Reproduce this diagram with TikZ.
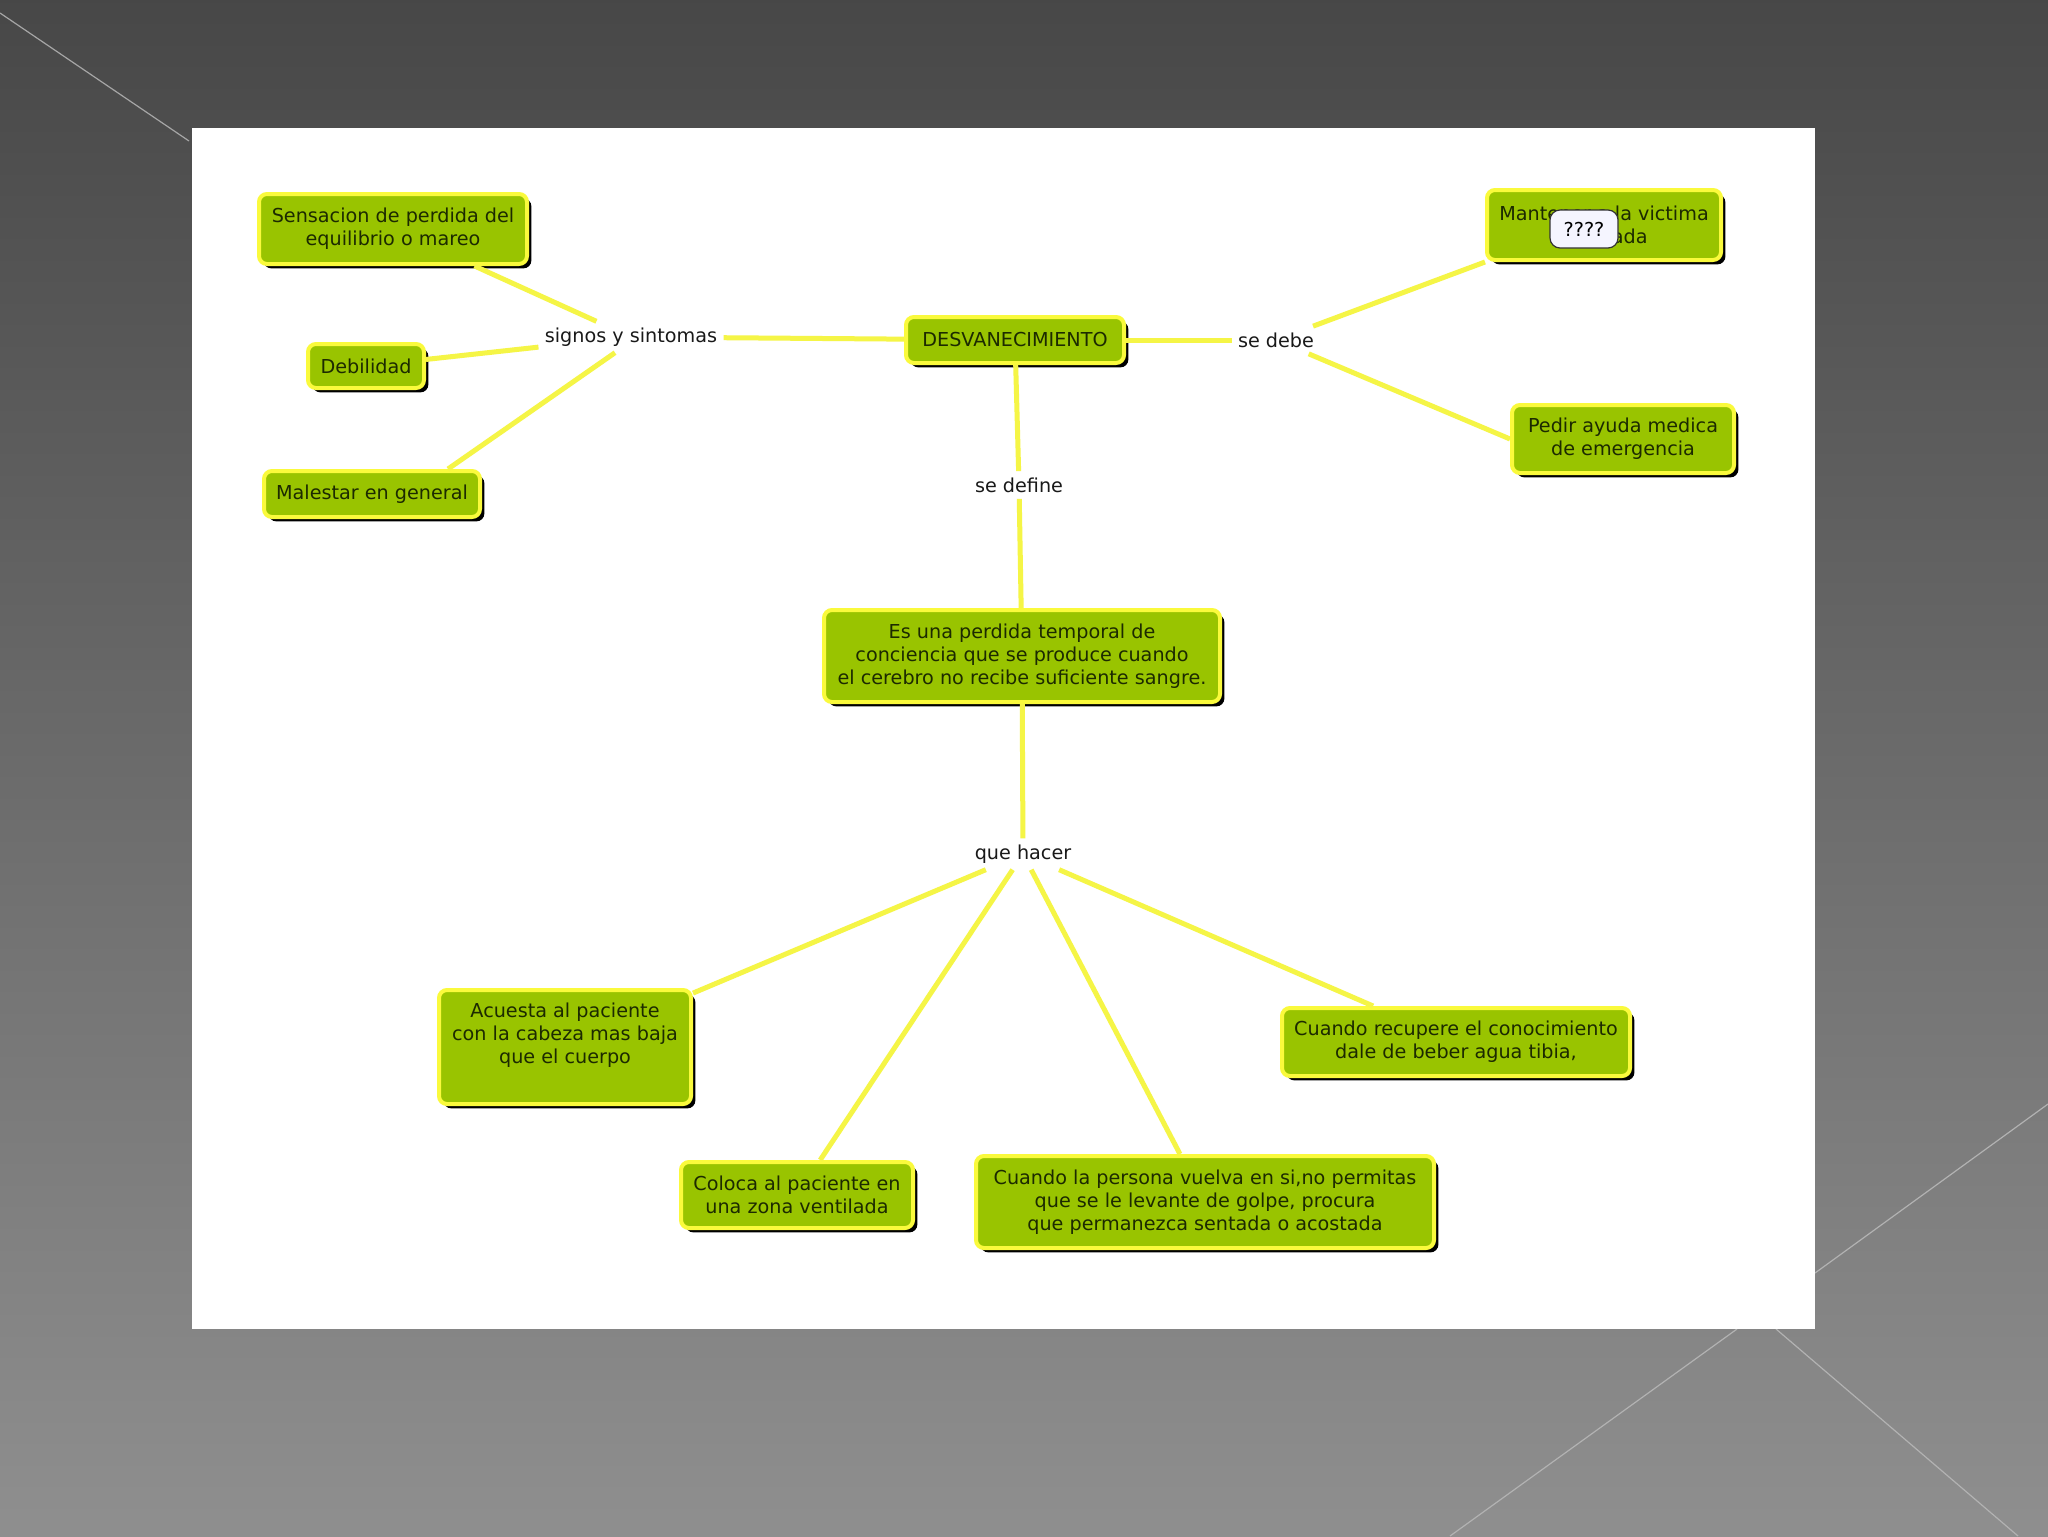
\documentclass[tikz,border=0pt]{standalone}
\usepackage{fontspec}
\setmainfont{DejaVu Sans}
\usetikzlibrary{shadows}
\definecolor{boxgreen}{RGB}{153,196,0}
\definecolor{boxrim}{RGB}{250,250,60}
\definecolor{boxtext}{RGB}{28,42,0}
\definecolor{linkyellow}{RGB}{245,245,70}
\tikzset{
  concept/.style={draw=boxrim,line width=2pt,fill=boxgreen,rounded corners=4pt,
    text=boxtext,align=center,inner sep=0pt,
    font=\fontsize{9.6}{11.6}\selectfont,
    drop shadow={shadow xshift=2.2pt,shadow yshift=-2.2pt,fill=black,opacity=1}},
  linkword/.style={text=black!90,inner sep=3pt,font=\fontsize{9.6}{11.6}\selectfont},
  link/.style={draw=linkyellow,line width=2.5pt}
}
\begin{document}
\begin{tikzpicture}[x=0.5pt,y=-0.5pt]
            % Background
            \shade[top color=black!72,bottom color=black!44] (0,0) rectangle (2048,1536);
            \useasboundingbox (0,0) rectangle (2048,1536);
            \draw[black!35,line width=0.6pt] (0,13)--(189,141);
            \draw[black!30,line width=0.6pt] (1815,1273)--(2048,1104);
            \draw[black!30,line width=0.6pt] (1450,1536)--(1737,1329);
            \draw[black!30,line width=0.6pt] (1776,1329)--(2018,1536);
            \fill[white] (192,128) rectangle (1815,1329);
            % Concepts
            \node[concept,minimum width=134pt,minimum height=35pt] (sensacion) at (393,229)
                {Sensacion de perdida del\\equilibrio o mareo};
            \node[concept,minimum width=58pt,minimum height=22pt] (debilidad) at (366,366) {Debilidad};
            \node[concept,minimum width=108pt,minimum height=23pt] (malestar) at (372,494) {Malestar en general};
            \node[concept,minimum width=109pt,minimum height=23pt] (desv) at (1015,340) {DESVANECIMIENTO};
            \node[concept,minimum width=117pt,minimum height=35pt] (mantener) at (1604,225)
                {Mantener a la victima\\acostada};
            \node[draw=black!80,line width=0.6pt,fill=blue!4!white,rounded corners=5pt,
                minimum width=34pt,minimum height=19pt,inner sep=0pt,
                font=\fontsize{9.6}{11.6}\selectfont] (duda) at (1584,229) {????};
            \node[concept,minimum width=111pt,minimum height=34pt] (pedir) at (1623,439)
                {Pedir ayuda medica\\de emergencia};
            \node[concept,minimum width=198pt,minimum height=46pt] (esuna) at (1022,656)
                {Es una perdida temporal de\\conciencia que se produce cuando\\el cerebro no recibe suficiente sangre.};
            \node[concept,minimum width=126pt,minimum height=57pt] (acuesta) at (565,1047)
                {Acuesta al paciente\\con la cabeza mas baja\\que el cuerpo\\[2pt]~};
            \node[concept,minimum width=116pt,minimum height=33pt] (coloca) at (797,1195)
                {Coloca al paciente en\\una zona ventilada};
            \node[concept,minimum width=229pt,minimum height=46pt] (persona) at (1205,1202)
                {Cuando la persona vuelva en si,no permitas\\que se le levante de golpe, procura\\que permanezca sentada o acostada};
            \node[concept,minimum width=174pt,minimum height=34pt] (recupere) at (1456,1042)
                {Cuando recupere el conocimiento\\dale de beber agua tibia,};
            % Linking words
            \node[linkword] (signos) at (631,337) {signos y sintomas};
            \node[linkword] (sedebe) at (1276,340) {se debe};
            \node[linkword] (sedefine) at (1019,485) {se define};
            \node[linkword] (quehacer) at (1023,854) {que hacer};
            % Links
            \path[link] (signos)--(sensacion);
            \path[link] (signos)--(debilidad);
            \path[link] ([xshift=-8pt]signos.south)--([xshift=38pt]malestar.north);
            \path[link] (signos)--(desv);
            \path[link] (desv)--(sedebe);
            \path[link] (sedebe)--(mantener.south west);
            \path[link] (sedebe)--(pedir.west);
            \path[link] (desv)--(sedefine);
            \path[link] (sedefine)--(esuna);
            \path[link] (esuna)--(quehacer);
            \path[link] (quehacer)--(acuesta);
            \path[link] (quehacer)--(coloca);
            \path[link] (quehacer)--(persona);
            \path[link] (quehacer)--(recupere);
\end{tikzpicture}
\end{document}
